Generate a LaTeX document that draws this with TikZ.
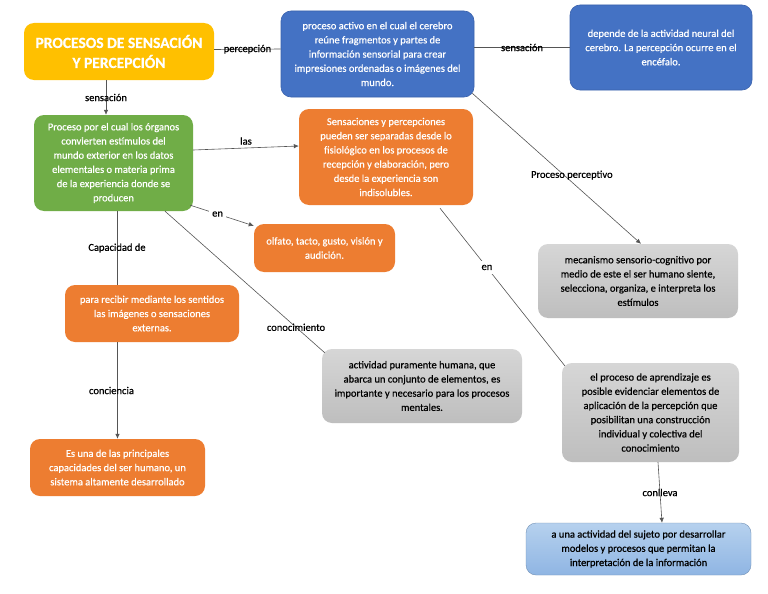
\documentclass[tikz,border=0pt]{standalone}
\usepackage{fontspec}
\setmainfont{Carlito}[RawFeature={embolden=0.6}]
\usetikzlibrary{arrows.meta,calc}
\definecolor{cyellow}{HTML}{FFC000}
\definecolor{cblue}{HTML}{4472C4}
\definecolor{cblueD}{HTML}{3A62AD}
\definecolor{cgreen}{HTML}{70AD47}
\definecolor{corange}{HTML}{ED7D31}
\definecolor{cgrayT}{HTML}{D6D6D6}
\definecolor{cgrayB}{HTML}{BEBEBE}
\definecolor{clbT}{HTML}{B6D1EE}
\definecolor{clbB}{HTML}{8FB5E3}
\definecolor{cline}{HTML}{555555}
\tikzset{
  box/.style={rounded corners=10pt, align=center, inner sep=0pt, font=\fontsize{10.5}{14.2}\selectfont},
  whitebox/.style={box, text=white},
  bluebox/.style={whitebox, fill=cblue, draw=cblueD, line width=0.6pt},
  orbox/.style={whitebox, fill=corange},
  graybox/.style={box, text=black, top color=cgrayT, bottom color=cgrayB},
  lbl/.style={font=\fontsize{10.5}{12}\selectfont, text=black, inner sep=1pt},
  conn/.style={draw=cline, line width=0.6pt},
  arr/.style={conn, -{Latex[length=5pt,width=4.5pt]}, color=cline}
}
\begin{document}
\begin{tikzpicture}[x=1pt,y=-1pt]
\useasboundingbox[fill=white] (0,0) rectangle (768,594);

\node[whitebox, fill=cyellow, minimum width=190pt, minimum height=57pt, font=\bfseries\fontsize{15.5}{20}\selectfont] (t) at (119,51.5) {PROCESOS DE SENSACIÓN\\Y PERCEPCIÓN};

\node[bluebox, minimum width=193pt, minimum height=86pt] (b1) at (377.5,54) {proceso activo en el cual el cerebro\\reúne fragmentos y partes de\\información sensorial para crear\\impresiones ordenadas o imágenes del\\mundo.};

\node[bluebox, minimum width=182pt, minimum height=85pt] (b2) at (661,47.5) {depende de la actividad neural del\\cerebro. La percepción ocurre en el\\encéfalo.};

\node[whitebox, fill=cgreen, minimum width=159pt, minimum height=96pt] (g) at (113.5,163) {Proceso por el cual los órganos\\convierten estímulos del\\mundo exterior en los datos\\elementales o materia prima\\de la experiencia donde se\\producen};

\node[orbox, minimum width=174pt, minimum height=96pt] (o1) at (386,157) {Sensaciones y percepciones\\pueden ser separadas desde lo\\fisiológico en los procesos de\\recepción y elaboración, pero\\desde la experiencia son\\indisolubles.};

\node[orbox, minimum width=141pt, minimum height=48pt] (o2) at (324.5,248) {olfato, tacto, gusto, visión y\\audición.};

\node[orbox, minimum width=174pt, minimum height=57pt] (r) at (152,313.5) {para recibir mediante los sentidos\\las imágenes o sensaciones\\externas.};

\node[orbox, minimum width=175pt, minimum height=57pt] (e) at (117.5,467.5) {Es una de las principales\\capacidades del ser humano, un\\sistema altamente desarrollado};

\node[graybox, minimum width=200pt, minimum height=74pt] (a) at (422,386) {actividad puramente humana, que\\abarca un conjunto de elementos, es\\importante y necesario para los procesos\\mentales.};

\node[graybox, minimum width=200pt, minimum height=74pt] (m) at (638,281) {mecanismo sensorio-cognitivo por\\medio de este el ser humano siente,\\selecciona, organiza, e interpreta los\\estímulos};

\node[graybox, minimum width=177pt, minimum height=99pt] (ap) at (650.5,412.5) {el proceso de aprendizaje es\\posible evidenciar elementos de\\aplicación de la percepción que\\posibilitan una construcción\\individual y colectiva del\\conocimiento};

\node[box, text=black, top color=clbT, bottom color=clbB, draw=clbB!80!black, line width=0.4pt, minimum width=225pt, minimum height=52pt] (lb) at (638.5,549) {a una actividad del sujeto por desarrollar\\modelos y procesos que permitan la\\interpretación de la información};

% connectors
\draw[conn] ([yshift=2pt]t.east) -- ([yshift=5pt]b1.west) node[lbl, midway] {percepción};
\draw[conn] (b1.east |- b2.west) -- (b2.west) node[lbl, midway] {sensación};
\draw[arr] ([xshift=-13pt]t.south) -- ([xshift=-7.5pt]g.north) node[lbl, midway] {sensación};
\draw[arr] ([yshift=13pt]g.east) -- ([yshift=11pt]o1.west) node[lbl, midway, yshift=7pt] {las};
\draw[arr] ([xshift=-3pt,yshift=6pt]g.south east) -- ([yshift=-2pt]o2.north west) node[lbl, pos=0.43, fill=white, inner sep=3pt] {en};
\draw[conn] ([xshift=3.5pt]g.south) -- ([xshift=3.5pt]g.south |- r.north) node[lbl, midway] {Capacidad de};
\draw[arr] (e.north |- r.south) -- (e.north) node[lbl, midway, xshift=-6pt] {conciencia};
\draw[conn] ([xshift=51.5pt]g.south) -- ([xshift=3pt,yshift=-4pt]a.north west) node[lbl, pos=0.82] {conocimiento};
\draw[arr] ([xshift=-2pt,yshift=4pt]b1.south east) -- ([xshift=3pt]m.north) node[lbl, pos=0.59, yshift=7pt] {Proceso perceptivo};
\draw[conn] ([xshift=54pt,yshift=-3pt]o1.south) -- ([xshift=3pt,yshift=-3pt]ap.north west) node[lbl, pos=0.376, fill=white, inner sep=4pt] {en};
\draw[arr] ([xshift=7.5pt]ap.south) -- ([xshift=23.5pt]lb.north) node[lbl, midway] {conlleva};
\end{tikzpicture}
\end{document}
